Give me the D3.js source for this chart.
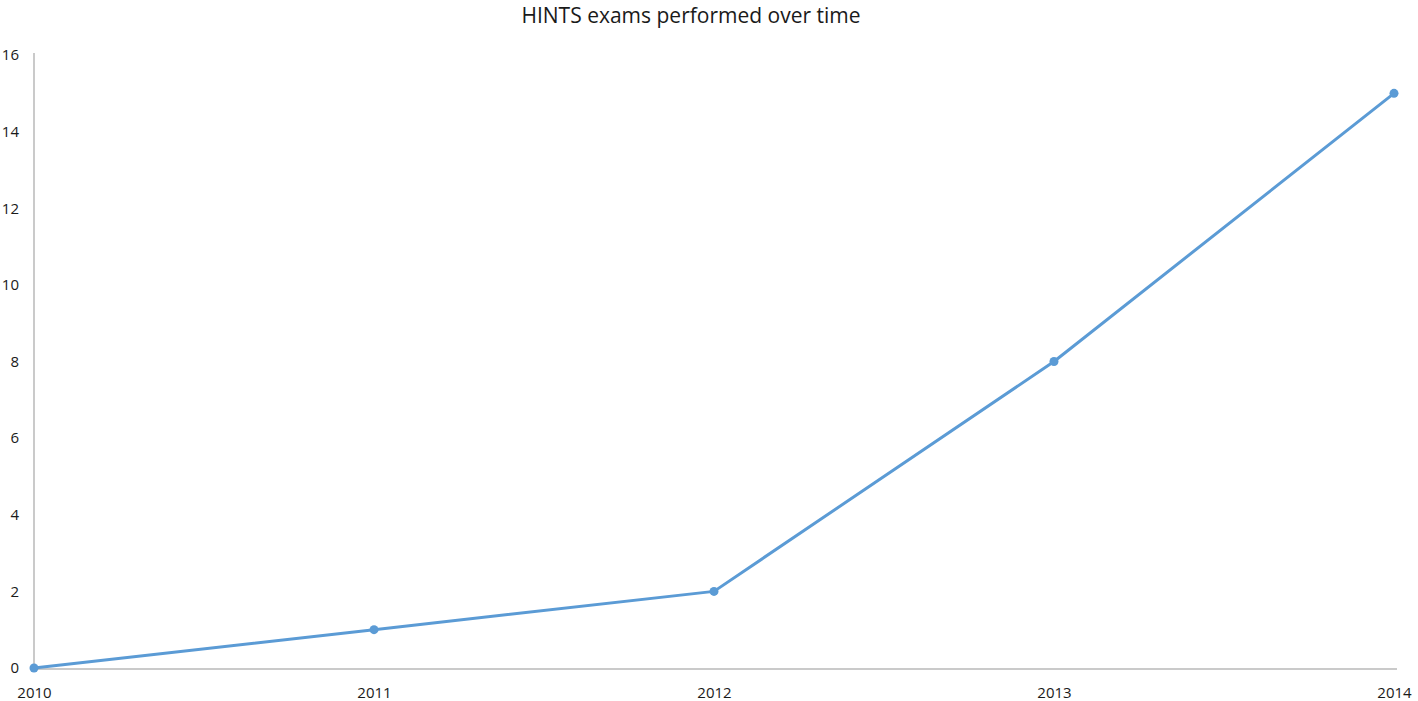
<!DOCTYPE html>
<html>
<head>
<meta charset="utf-8">
<script src="https://cdn.jsdelivr.net/npm/d3@7"></script>
<style>
  body { margin: 0; background: #fff; }
  svg { display: block; font-family: "Open Sans", "Liberation Sans", sans-serif; }
</style>
</head>
<body>
<svg class="line-chart"></svg>
<script>
const title = 'HINTS exams performed over time';
const years = ['2010', '2011', '2012', '2013', '2014'];
const exams = [0, 1, 2, 8, 15];
const yTicks = [0, 2, 4, 6, 8, 10, 12, 14, 16];

const svgWidth = 1418, svgHeight = 701;
const margin = { top: 55, right: 21, bottom: 32, left: 34 };
const width = svgWidth - margin.left - margin.right;
const height = svgHeight - margin.top - margin.bottom;

const svg = d3.select('svg.line-chart')
  .attr('width', svgWidth)
  .attr('height', svgHeight);

svg.append('text')
  .attr('x', 691)
  .attr('y', 23)
  .attr('text-anchor', 'middle')
  .attr('font-size', 21)
  .attr('fill', '#1a1a1a')
  .text(title);

const g = svg.append('g')
  .attr('transform', `translate(${margin.left}, ${margin.top})`);

const x = d3.scalePoint()
  .domain(years)
  .range([0, 1360]);

const y = d3.scaleLinear()
  .domain([0, 16])
  .range([height - 1, 0]);

// x axis
const xAxis = g.append('g')
  .attr('transform', `translate(0, ${height})`)
  .call(d3.axisBottom(x).tickSize(0).tickPadding(18));
xAxis.select('.domain').remove();
xAxis.selectAll('text')
  .attr('font-size', 15)
  .attr('font-family', '"Open Sans", "Liberation Sans", sans-serif')
  .attr('fill', '#1a1a1a');
g.append('line')
  .attr('x1', 0).attr('x2', width)
  .attr('y1', height).attr('y2', height)
  .attr('stroke', '#b8b8b8')
  .attr('stroke-width', 1.5);

// y axis
const yAxis = g.append('g')
  .call(d3.axisLeft(y).tickValues(yTicks).tickSize(0).tickPadding(15));
yAxis.select('.domain').remove();
yAxis.selectAll('text')
  .attr('font-size', 15)
  .attr('font-family', '"Open Sans", "Liberation Sans", sans-serif')
  .attr('fill', '#1a1a1a');
g.append('line')
  .attr('x1', 0).attr('x2', 0)
  .attr('y1', -2).attr('y2', height)
  .attr('stroke', '#b8b8b8')
  .attr('stroke-width', 1.5);

const data = years.map((d, i) => ({ year: d, value: exams[i] }));

const line = d3.line()
  .x(d => x(d.year))
  .y(d => y(d.value));

g.append('path')
  .datum(data)
  .attr('fill', 'none')
  .attr('stroke', '#5b9bd5')
  .attr('stroke-width', 3)
  .attr('stroke-linejoin', 'round')
  .attr('d', line);

g.selectAll('circle')
  .data(data)
  .enter().append('circle')
  .attr('cx', d => x(d.year))
  .attr('cy', d => y(d.value))
  .attr('r', 4.5)
  .attr('fill', '#5b9bd5');
</script>
</body>
</html>
